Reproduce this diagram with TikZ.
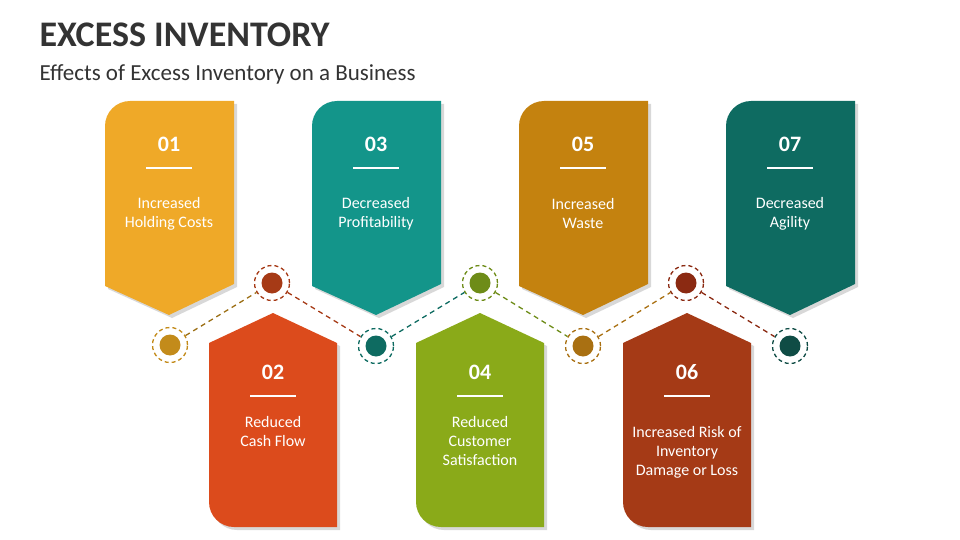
\documentclass[tikz,border=0pt]{standalone}
\usepackage{fontspec}
\setmainfont{Carlito}
\begin{document}
\begin{tikzpicture}[x=1pt,y=-1pt,
  num/.style={text=white,font=\bfseries\fontsize{22}{24}\selectfont},
  lbl/.style={text=white,font=\fontsize{16}{19}\selectfont,align=center},
  dot/.style={circle,minimum size=21pt,inner sep=0pt},
  ring/.style={circle,minimum size=35pt,inner sep=0pt,draw,dashed,line width=1.3pt,dash pattern=on 4pt off 3pt},
  link/.style={dashed,line width=1.3pt,dash pattern=on 5pt off 4pt},
  shad/.style={fill=black!30,opacity=0.5}]
\useasboundingbox (0,0) rectangle (960,540);
\definecolor{c1}{HTML}{EFA928}\definecolor{c2}{HTML}{DC4B1C}
\definecolor{c3}{HTML}{13958A}\definecolor{c4}{HTML}{8AAA19}
\definecolor{c5}{HTML}{C4820F}\definecolor{c6}{HTML}{A53A16}
\definecolor{c7}{HTML}{0E6B61}
\definecolor{d1}{HTML}{C38B1A}\definecolor{d2}{HTML}{A63A16}
\definecolor{d3}{HTML}{0E6B61}\definecolor{d4}{HTML}{6E8C18}
\definecolor{d5}{HTML}{A97012}\definecolor{d6}{HTML}{8B2A12}
\definecolor{d7}{HTML}{0F4C45}
\node[anchor=west,font=\bfseries\fontsize{36}{40}\selectfont,text=black!80] (title) at (36,35) {EXCESS INVENTORY};
\node[anchor=west,font=\fontsize{23}{26}\selectfont,text=black!80] (sub) at (36,74) {Effects of Excess Inventory on a Business};
\newcommand\topshape[4]{%
  \begin{scope}[shift={(#1,0)}]
  \fill[shad] (3,129) arc[start angle=180,end angle=270,radius=25] -- (132,104) -- (132,287) -- (67,318) -- (3,289) -- cycle;
  \fill[#2] (0,126) arc[start angle=180,end angle=270,radius=25] -- (129,101) -- (129,284) -- (64,315) -- (0,286) -- cycle;
  \node[num] (n#3) at (64,144) {#3};
  \draw[white,line width=1.2pt] (41,168) -- (87,168);
  \node[lbl] (t#3) at (64,214) {#4};
  \end{scope}}
\newcommand\botshape[3]{%
  \begin{scope}[shift={(#1,0)}]
  \fill[shad] (3,346) -- (67,316) -- (131,346) -- (131,530) -- (28,530) arc[start angle=90,end angle=180,radius=25] -- cycle;
  \fill[#2] (0,343) -- (64,313) -- (128,343) -- (128,527) -- (25,527) arc[start angle=90,end angle=180,radius=25] -- cycle;
  \node[num] (n#3) at (64,372) {#3};
  \draw[white,line width=1.2pt] (41,396) -- (87,396);
  \end{scope}}
\topshape{105}{c1}{01}{Increased\\Holding Costs}
\topshape{312}{c3}{03}{Decreased\\Profitability}
\topshape{519}{c5}{05}{Increased\\Waste}
\topshape{726}{c7}{07}{Decreased\\Agility}
\botshape{209}{c2}{02}
\botshape{416}{c4}{04}
\botshape{623}{c6}{06}
\node[lbl] (t02) at (273,431) {Reduced\\Cash Flow};
\node[lbl] (t04) at (480,441) {Reduced\\Customer\\Satisfaction};
\node[lbl] (t06) at (687,452) {Increased Risk of\\Inventory\\Damage or Loss};
\foreach \i/\x/\y in {1/170/345,2/272/283,3/376/346,4/480/283,5/583/346,6/686/283,7/790/346}{
  \node[dot,fill=d\i] (p\i) at (\x,\y) {};
  \node[ring,draw=d\i] (r\i) at (\x,\y) {};
}
\draw[link,draw=d1!80!black] (r1) -- (r2);
\draw[link,draw=d2] (r2) -- (r3);
\draw[link,draw=d3] (r3) -- (r4);
\draw[link,draw=d4] (r4) -- (r5);
\draw[link,draw=d5] (r5) -- (r6);
\draw[link,draw=d6] (r6) -- (r7);
\end{tikzpicture}
\end{document}
